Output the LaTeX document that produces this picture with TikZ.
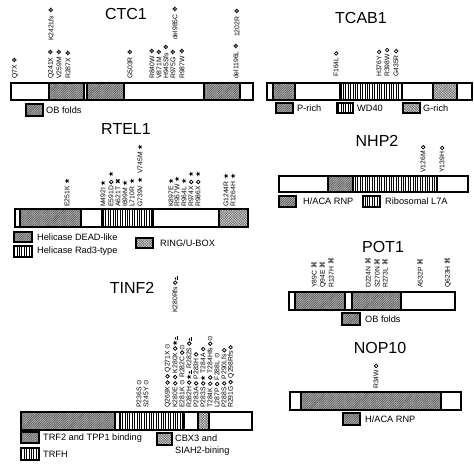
\documentclass[tikz,border=0pt]{standalone}
\usepackage{fontspec}
\setmainfont{Liberation Sans}
\newfontfamily\symfont{DejaVu Sans}
\usetikzlibrary{patterns.meta}

\newcommand{\mCirc}{\tikz[x=1pt,y=1pt,baseline=-2.2pt]\draw[line width=0.75pt] (0,0) circle[radius=1.8pt];}
\newcommand{\mDot}{{\symfont ⊙}}
\newcommand{\mStar}{{\symfont ★}}
\newcommand{\mCross}{{\symfont ✖}}
\newcommand{\mDiam}{{\symfont ❖}}
\newcommand{\mCmd}{{\symfont ⌘}}
\newcommand{\mDome}{\tikz[x=1pt,y=1pt,baseline=0pt]{\fill (0,0) rectangle (4,0.7); \fill (0.3,1.2) arc[start angle=180,end angle=0,radius=1.7] -- cycle;}}

\tikzset{
  dom/.style={draw,line width=1.2pt},
  plain/.style={dom,fill=white},
  hatch/.style={dom,preaction={fill=black!30},pattern={Lines[angle=45,distance=1.6pt,line width=0.55pt]},pattern color=black!70},
  vstripe/.style={dom,pattern={Lines[angle=90,distance=2.4pt,line width=0.5pt]}},
  xdots/.style={dom,preaction={fill=black!12},pattern={Hatch[angle=45,distance=1.8pt,line width=0.35pt]},pattern color=black!65},
  mut/.style={rotate=90,anchor=west,inner sep=0pt,font=\fontsize{6.8}{7}\selectfont},
  gene/.style={font=\fontsize{16}{18}\selectfont},
  leg/.style={anchor=west,inner sep=0pt,font=\fontsize{9.2}{11}\selectfont}
}

\begin{document}
\begin{tikzpicture}[x=1pt,y=-1pt]
\fill[white] (0,0) rectangle (474,473);
\useasboundingbox (0,0) rectangle (474,473);

% CTC1
\node[gene] (ctc1) at (126,14) {CTC1};
\draw[plain] (11,83) rectangle (49,100);
\draw[hatch] (49,83) rectangle (84,100);
\draw[plain] (84,83) rectangle (87,100);
\draw[hatch] (87,83) rectangle (124,100);
\draw[plain] (124,83) rectangle (204,100);
\draw[hatch] (204,83) rectangle (240,100);
\draw[plain] (240,83) rectangle (253,100);
\foreach \x/\y/\t [count=\i] in {15/79/Q7X \mDiam, 51/79/Q241X \mDiam, 51/41/K242Lfs \mDiam,
  59/79/V259M \mDiam, 68/79/R287X \mDiam, 130/79/G503R \mDiam, 152/79/R840W \mDiam,
  159/79/V871M \mDiam, 166/79/H945Sfs \mDiam, 173/79/R975G \mDiam, 175/40/del985C \mDiam,
  182/79/R987W \mDiam, 236/79/del1196L \mDiam, 237/37/1202R \mDiam}
  \node[mut] (ctc1-m\i) at (\x,\y) {\t};
\draw[hatch] (26,104) rectangle (43,116);
\node[leg] (ctc1-l1) at (46,110) {OB folds};

% TCAB1
\node[gene] (tcab1) at (361,18) {TCAB1};
\draw[plain] (267,83) rectangle (273,100);
\draw[hatch] (273,83) rectangle (295,100);
\draw[plain] (295,83) rectangle (340,100);
\draw[vstripe] (340,83) rectangle (402,100);
\draw[plain] (402,83) rectangle (433,100);
\draw[xdots] (433,83) rectangle (457,100);
\draw[plain] (457,83) rectangle (472,100);
\foreach \x/\t [count=\i] in {336/F164L \mCirc, 379/H376Y \mCirc, 387/R398W \mCirc, 396/G435R \mCirc}
  \node[mut] (tcab1-m\i) at (\x,77) {\t};
\draw[hatch] (276,103) rectangle (293,113);
\node[leg] (tcab1-l1) at (297,108) {P-rich};
\draw[vstripe] (337,103) rectangle (353,113);
\node[leg] (tcab1-l2) at (357,108) {WD40};
\draw[xdots] (403,103) rectangle (420,113);
\node[leg] (tcab1-l3) at (423,108) {G-rich};

% RTEL1
\node[gene] (rtel1) at (126,129) {RTEL1};
\draw[plain] (15,209) rectangle (20,227);
\draw[hatch] (20,209) rectangle (81,227);
\draw[plain] (81,209) rectangle (102,227);
\draw[vstripe] (102,209) rectangle (153,227);
\draw[plain] (153,209) rectangle (219,227);
\draw[xdots] (219,209) rectangle (248,227);
\foreach \x/\y/\t [count=\i] in {67/207/E251K \mStar, 103/207/M492I \mStar, 111/207/E591D \mCirc{} \mStar,
  118/207/A621T \mCross, 125/207/I699M \mStar, 132/207/L710R \mStar, 140/207/G739V \mStar,
  140/174/V745M \mStar, 171/207/K897E \mStar, 177/207/R957W \mStar, 184/207/R964L \mStar,
  191/207/R974X \mCirc{} \mStar, 198/207/R986X \mCirc{} \mStar, 226/207/G1244R \mStar,
  233/207/R1264H \mStar}
  \node[mut] (rtel1-m\i) at (\x,\y) {\t};
\draw[hatch] (14,232) rectangle (32,242);
\node[leg] (rtel1-l1) at (37,237) {Helicase DEAD-like};
\draw[vstripe] (14,246) rectangle (32,257);
\node[leg] (rtel1-l2) at (37,251) {Helicase Rad3-type};
\draw[xdots] (136,238) rectangle (153,248);
\node[leg] (rtel1-l3) at (160,243) {RING/U-BOX};

% NHP2
\node[gene] (nhp2) at (377,141) {NHP2};
\draw[plain] (279,176) rectangle (328,192);
\draw[hatch] (328,176) rectangle (353,192);
\draw[vstripe] (353,176) rectangle (437,192);
\draw[plain] (437,176) rectangle (468,192);
\foreach \x/\t [count=\i] in {423/V126M \mCirc, 442/Y139H \mCirc}
  \node[mut] (nhp2-m\i) at (\x,173) {\t};
\draw[hatch] (279,196) rectangle (296,207);
\node[leg] (nhp2-l1) at (303,201) {H/ACA RNP};
\draw[vstripe] (363,196) rectangle (380,207);
\node[leg] (nhp2-l2) at (385,201) {Ribosomal L7A};

% POT1
\node[gene] (pot1) at (383,247) {POT1};
\draw[plain] (289,292) rectangle (295,310);
\draw[hatch] (295,292) rectangle (345,310);
\draw[plain] (345,292) rectangle (352,310);
\draw[hatch] (352,292) rectangle (401,310);
\draw[plain] (401,292) rectangle (455,310);
\foreach \x/\t [count=\i] in {314/Y89C \mCmd, 323/Q94E \mCmd, 331/R137H \mCmd, 368/D224N \mCmd,
  377/S270N \mCmd, 385/R273L \mCmd, 420/A532P \mCmd, 448/Q623H \mCmd}
  \node[mut] (pot1-m\i) at (\x,288) {\t};
\draw[hatch] (342,313) rectangle (360,325);
\node[leg] (pot1-l1) at (365,319) {OB folds};

% NOP10
\node[gene] (nop10) at (380,348) {NOP10};
\draw[plain] (290,392) rectangle (301,410);
\draw[hatch] (301,392) rectangle (441,410);
\draw[plain] (441,392) rectangle (461,410);
\node[mut] (nop10-m1) at (376,389) {R34W \mCirc};
\draw[hatch] (343,413) rectangle (360,425);
\node[leg] (nop10-l1) at (365,419) {H/ACA RNP};

% TINF2
\node[gene] (tinf2) at (132,288) {TINF2};
\draw[hatch] (21,412) rectangle (115,430);
\draw[plain] (115,412) rectangle (120,430);
\draw[vstripe] (120,412) rectangle (184,430);
\draw[plain] (184,412) rectangle (198,430);
\draw[xdots] (198,412) rectangle (209,430);
\draw[plain] (209,412) rectangle (252,430);
\foreach \x/\y/\t [count=\i] in {139/408/P236S \mDot, 146/408/S245Y \mDot,
  168/408/Q269X \mCirc{} \mCirc{} Q271X \mDot,
  175/408/K280E \mCirc{} \mCirc{} K280X \mCirc\mStar\mDome,
  175/313/K280Rfs \mCirc\mDome,
  182/408/E281K \mDot{} R282C \mCirc\mDot,
  189/408/R282H \mCirc\mStar\mDome{} R282S \mCirc\mDome,
  196/408/P283A \mCirc{} P283H \mCirc,
  203/408/P283S \mCirc\mStar{} T284A \mCirc,
  210/408/T284K \mCirc{} \mCirc{} T284Hfs \mCirc\mDot,
  217/408/L287P \mCirc{} F288L \mDot,
  224/408/P288S \mCirc{} P290Lfs \mCirc,
  231/408/R291G \mCirc{} Q298Rfs \mCirc}
  \node[mut] (tinf2-m\i) at (\x,\y) {\t};
\draw[hatch] (21,432) rectangle (39,443);
\node[leg] (tinf2-l1) at (43,438) {TRF2 and TPP1 binding};
\draw[vstripe] (21,448) rectangle (39,460);
\node[leg] (tinf2-l2) at (43,454) {TRFH};
\draw[xdots] (157,433) rectangle (172,445);
\node[leg] (tinf2-l3) at (175,438) {CBX3 and};
\node[leg] (tinf2-l4) at (175,451) {SIAH2-bining};
\end{tikzpicture}
\end{document}
